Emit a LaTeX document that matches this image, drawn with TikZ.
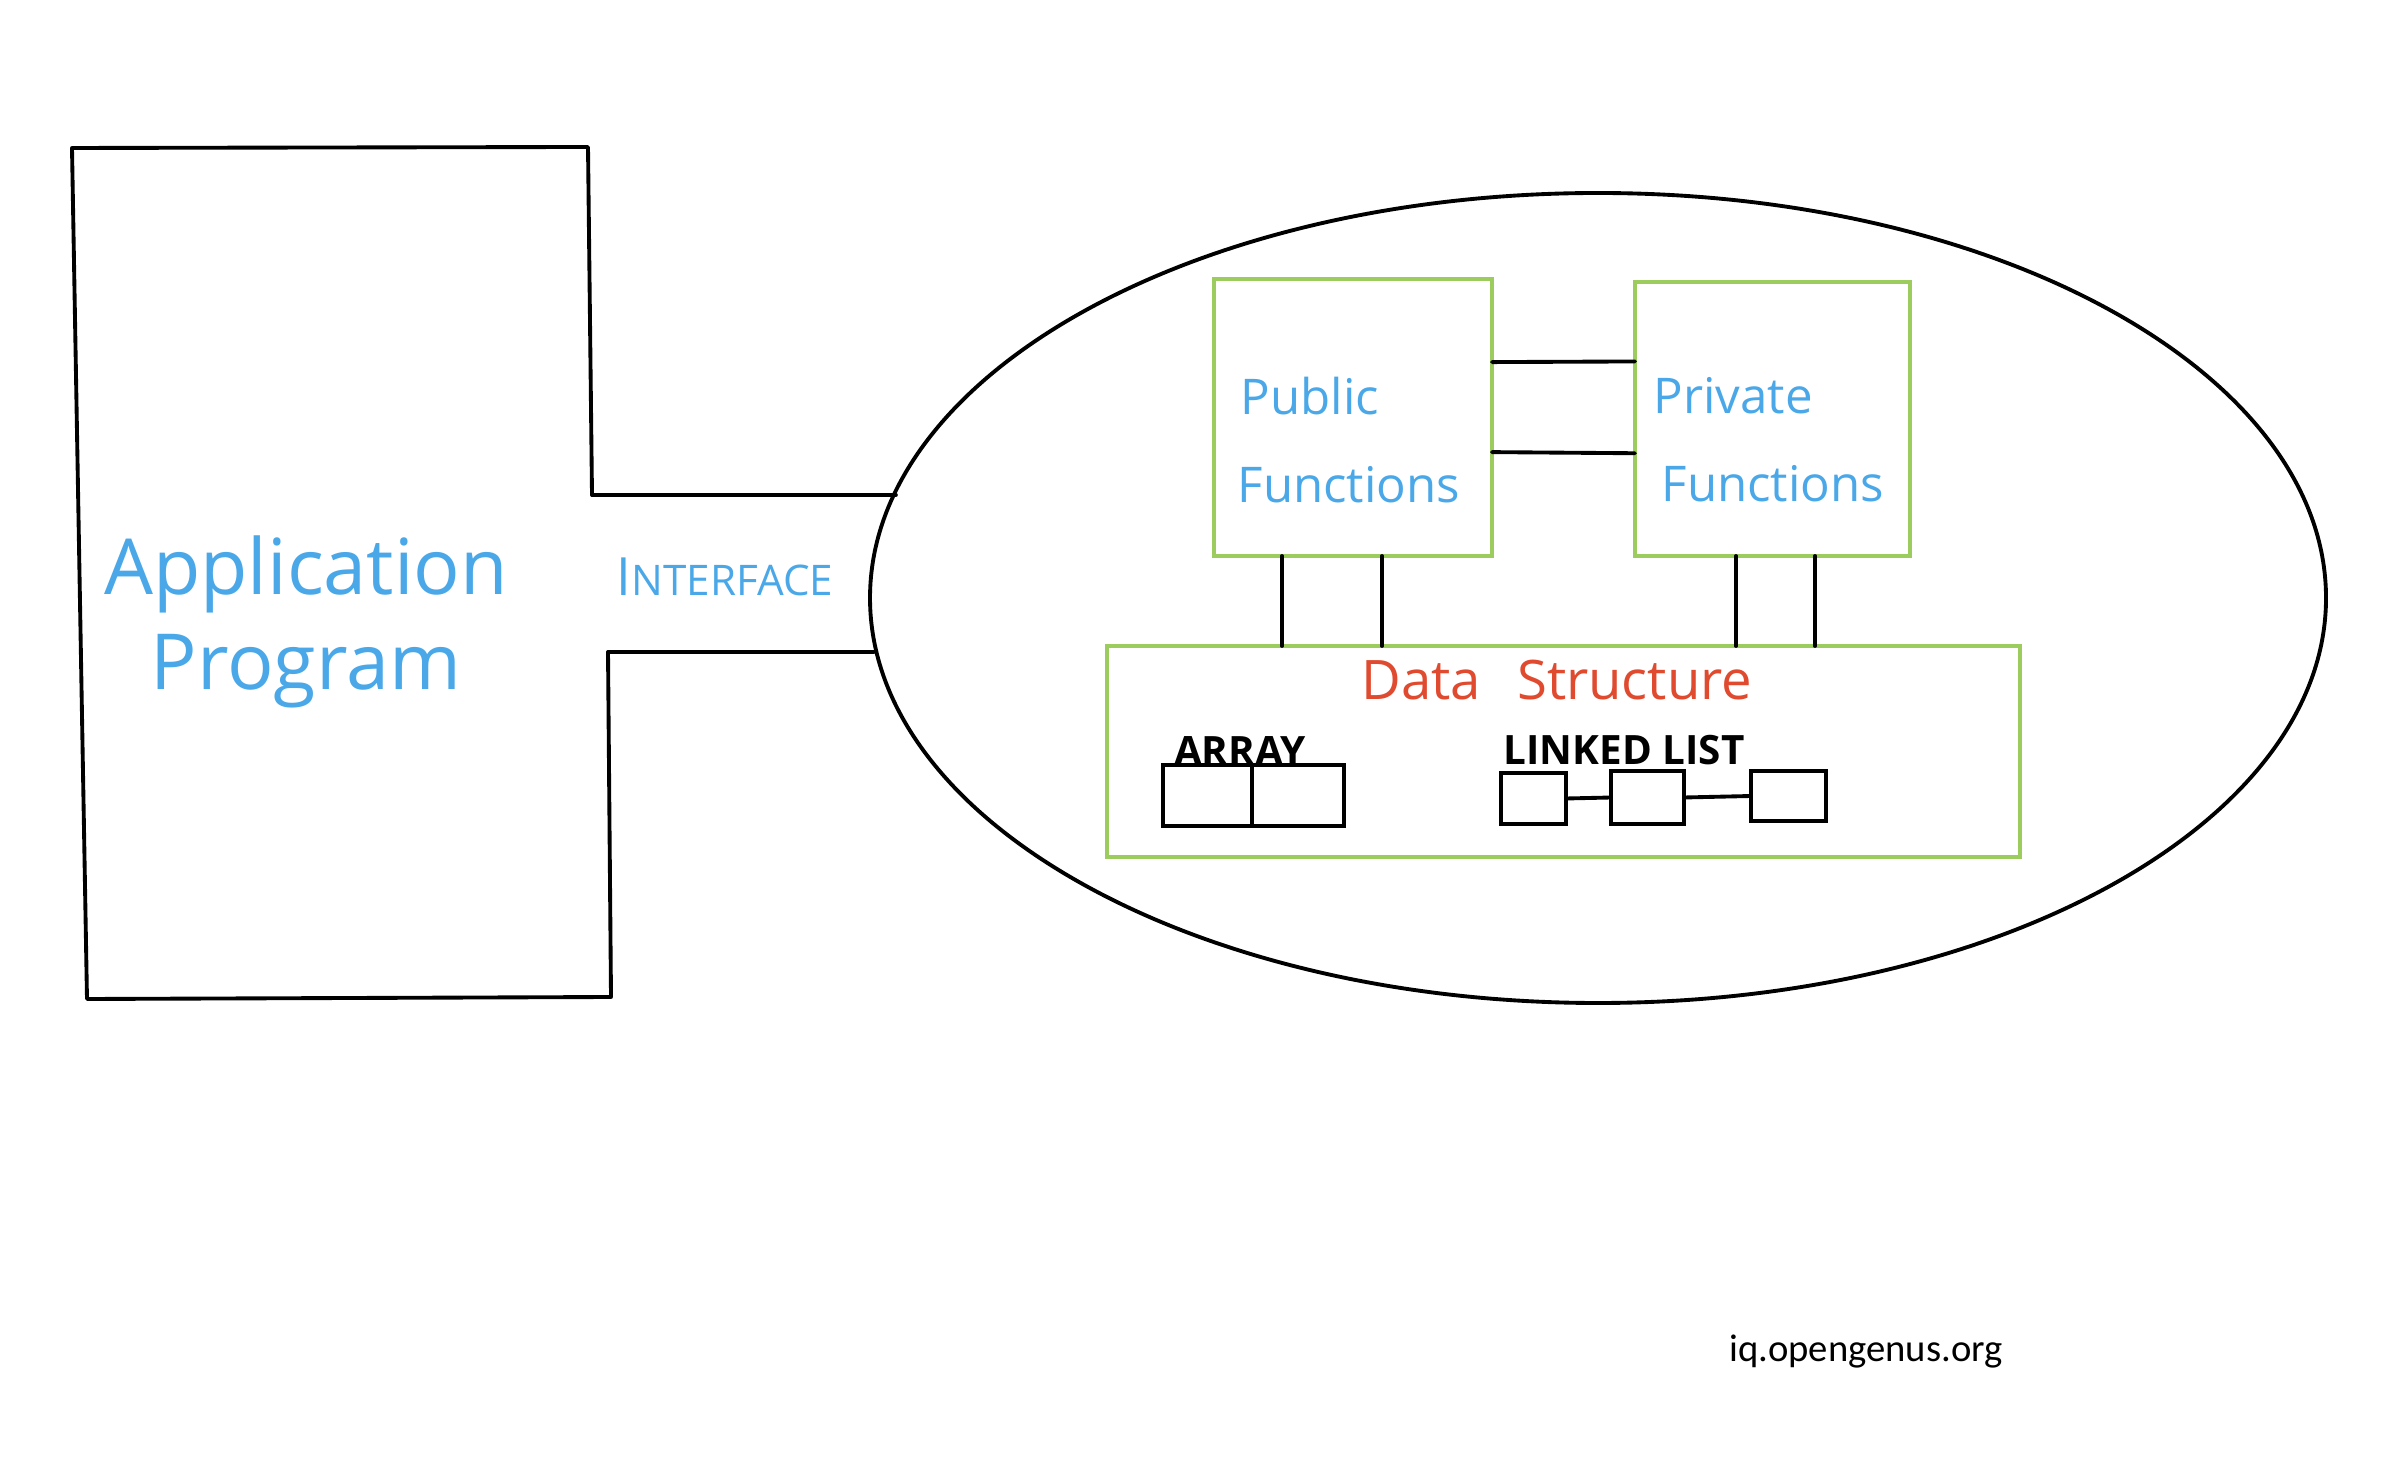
\documentclass[tikz,border=0pt]{standalone}
\usepackage{fontspec}
\setmainfont{Carlito}
\newfontfamily\handfont{Open Sans}
\usetikzlibrary{shapes.geometric, calc, positioning}
\definecolor{penblue}{HTML}{4AA8E8}
\definecolor{penred}{HTML}{E04A2F}
\definecolor{pengreen}{HTML}{9CCC5E}
\tikzset{
    wire/.style={line width=1.1pt, black, line cap=round, line join=round},
    unit/.style={rectangle, draw=pengreen, line width=1.4pt, inner sep=0pt, outer sep=0pt},
    cell/.style={rectangle, draw=black, line width=1.3pt, inner sep=0pt, outer sep=0pt},
    hand/.style={font=\handfont, text=penblue, inner sep=0pt},
    tag/.style={font=\handfont\bfseries\fontsize{11.5}{13}\selectfont, inner sep=0pt}
}

\begin{document}
\begin{tikzpicture}
    \useasboundingbox (0,0) rectangle (23.94,-14.62);

    % Programa de aplicacion (contorno)
    \coordinate (a1) at (0.72,-1.48);
    \coordinate (a2) at (5.88,-1.47);
    \coordinate (a3) at (5.92,-4.95);
    \coordinate (a4) at (6.08,-6.52);
    \coordinate (a5) at (6.11,-9.97);
    \coordinate (a6) at (0.87,-9.99);
    \draw[wire] (a3) -- (a2) -- (a1) -- (a6) -- (a5) -- (a4);
    \node[hand, align=center, font=\handfont\fontsize{22}{27}\selectfont] (app) at (3.06,-6.22) {Application\\Program};

    % Modulo (elipse)
    \node[ellipse, draw, line width=1.1pt, minimum width=14.56cm, minimum height=8.1cm, inner sep=0pt] (module) at (15.98,-5.98) {};

    % Interfaz
    \draw[wire] (a3) -- (a3 -| module.171.6);
    \draw[wire] (a4) -- (a4 -| module.184.2);
    \node[hand] (iface) at (7.25,-5.77) {\fontsize{15}{18}\selectfont I\fontsize{12}{14}\selectfont NTERFACE};

    % Funciones publicas y privadas
    \node[unit, minimum width=2.78cm, minimum height=2.77cm] (pub) at (13.53,-4.175) {};
    \node[unit, minimum width=2.75cm, minimum height=2.74cm] (priv) at (17.725,-4.19) {};
    \node[hand, anchor=west, align=left, font=\handfont\fontsize{14}{25}\selectfont] (pubtxt) at (12.37,-4.40) {\hspace{0.03cm}Public\\Functions};
    \node[hand, anchor=west, align=left, font=\handfont\fontsize{14}{25}\selectfont] (privtxt) at (16.53,-4.40) {Private\\\hspace{0.08cm}Functions};
    \draw[wire] ($(pub.north east)!0.30!(pub.south east)$) -- ($(priv.north west)!0.29!(priv.south west)$);
    \draw[wire] ($(pub.north east)!0.625!(pub.south east)$) -- ($(priv.north west)!0.625!(priv.south west)$);

    % Estructura de datos
    \node[unit, minimum width=9.13cm, minimum height=2.11cm] (ds) at (15.635,-7.515) {};
    \node[font=\handfont\fontsize{15.5}{17}\selectfont, text=penred, inner sep=0pt] (dstxt) at (15.57,-6.80) {Data\hspace{0.36cm}Structure};
    \foreach \f [count=\i] in {0.245, 0.604} {
        \coordinate (pl\i) at ($(pub.south west)!\f!(pub.south east)$);
        \draw[wire] (pl\i) -- (pl\i |- ds.north);
    }
    \foreach \f [count=\i] in {0.367, 0.655} {
        \coordinate (pr\i) at ($(priv.south west)!\f!(priv.south east)$);
        \draw[wire] (pr\i) -- (pr\i |- ds.north);
    }

    % Arreglo
    \node[tag] (arrtxt) at (12.40,-7.51) {ARRAY};
    \node[cell, minimum width=0.89cm, minimum height=0.61cm] (arr1) at (12.075,-7.955) {};
    \node[cell, minimum width=0.92cm, minimum height=0.61cm, right=0pt of arr1] (arr2) {};

    % Lista enlazada
    \node[tag] (lltxt) at (16.24,-7.50) {LINKED LIST};
    \node[cell, minimum width=0.65cm, minimum height=0.51cm] (ll1) at (15.335,-7.985) {};
    \node[cell, minimum width=0.73cm, minimum height=0.53cm] (ll2) at (16.475,-7.975) {};
    \node[cell, minimum width=0.75cm, minimum height=0.50cm] (ll3) at (17.885,-7.96) {};
    \draw[wire] (ll1.east) -- (ll2.west);
    \draw[wire] (ll2.east) -- (ll3.west);

    % Marca de agua
    \node[font=\fontsize{11}{13}\selectfont, inner sep=0pt] (site) at (18.66,-13.52) {iq.opengenus.org};
\end{tikzpicture}
\end{document}
